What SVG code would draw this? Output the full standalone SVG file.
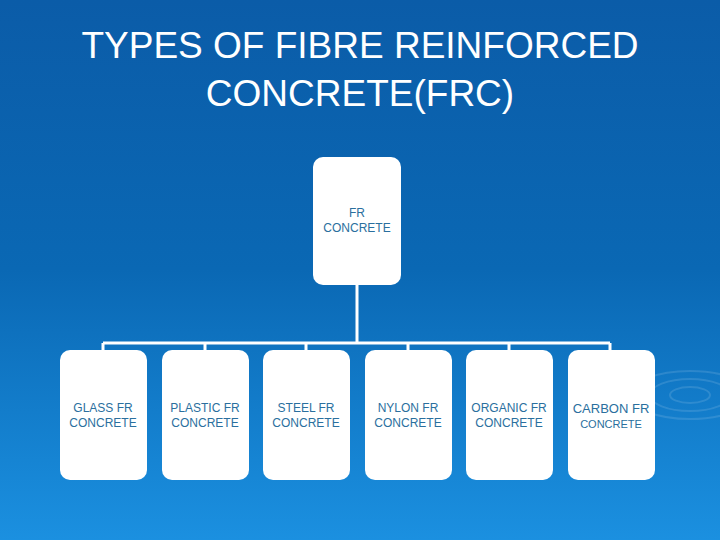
<svg xmlns="http://www.w3.org/2000/svg" width="720" height="540" viewBox="0 0 720 540">
<defs>
<linearGradient id="bg" x1="0" y1="0" x2="0" y2="1">
<stop offset="0" stop-color="#0b5ca8"/><stop offset="0.5" stop-color="#0a68b4"/><stop offset="1" stop-color="#1b90e0"/>
</linearGradient>
<style>
.box{fill:#fff}
.t{font-family:"Liberation Sans",Arial,sans-serif;font-size:12px;fill:#2a6f9e;text-anchor:middle}
.title{font-family:"Liberation Sans",Arial,sans-serif;font-size:37px;fill:#fff;text-anchor:middle}
.c{stroke:#fff;stroke-width:3;fill:none}
.r{stroke:#fff;stroke-opacity:0.12;fill:none;stroke-width:2}
</style>
</defs>
<rect width="720" height="540" fill="url(#bg)"/>
<g>
<ellipse class="r" cx="690" cy="395" rx="20" ry="8"/><ellipse class="r" cx="690" cy="395" rx="40" ry="16"/><ellipse class="r" cx="690" cy="395" rx="60" ry="24"/>
</g>
<text class="title" x="360" y="58">TYPES OF FIBRE REINFORCED</text>
<text class="title" x="360" y="106">CONCRETE(FRC)</text>
<g id="connectors">
<path class="c" d="M357 285V343M103 343H610M103 343V351M205 343V351M306 343V351M408 343V351M509 343V351M610 343V351"/>
</g>
<g id="root"><rect class="box" x="313" y="157" width="88" height="128" rx="10"/><text class="t" x="357" y="217">FR</text><text class="t" x="357" y="232">CONCRETE</text></g>
<g id="glass"><rect class="box" x="60" y="350" width="87" height="130" rx="10"/><text class="t" x="103" y="412">GLASS FR</text><text class="t" x="103" y="427">CONCRETE</text></g>
<g id="plastic"><rect class="box" x="162" y="350" width="87" height="130" rx="10"/><text class="t" x="205" y="412">PLASTIC FR</text><text class="t" x="205" y="427">CONCRETE</text></g>
<g id="steel"><rect class="box" x="263" y="350" width="87" height="130" rx="10"/><text class="t" x="306" y="412">STEEL FR</text><text class="t" x="306" y="427">CONCRETE</text></g>
<g id="nylon"><rect class="box" x="365" y="350" width="87" height="130" rx="10"/><text class="t" x="408" y="412">NYLON FR</text><text class="t" x="408" y="427">CONCRETE</text></g>
<g id="organic"><rect class="box" x="466" y="350" width="87" height="130" rx="10"/><text class="t" x="509" y="412">ORGANIC FR</text><text class="t" x="509" y="427">CONCRETE</text></g>
<g id="carbon"><rect class="box" x="568" y="350" width="87" height="130" rx="10"/><text class="t" x="611" y="413" style="font-size:13px">CARBON FR</text><text class="t" x="611" y="428" style="font-size:11px">CONCRETE</text></g>
</svg>
